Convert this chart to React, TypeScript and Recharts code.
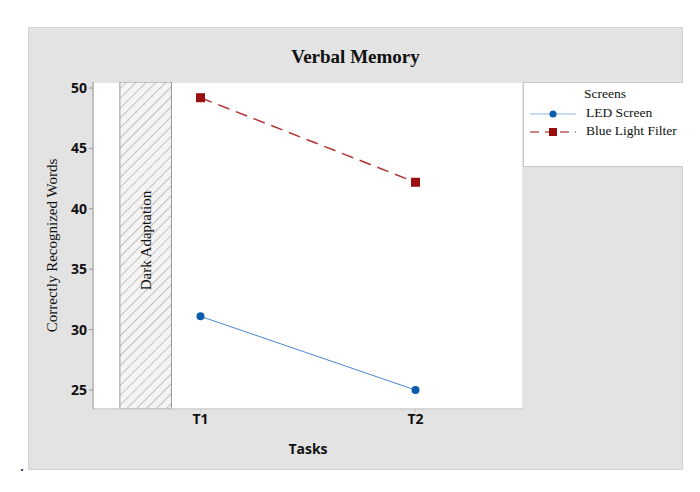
import React from "react";
import { LineChart, Line, XAxis, YAxis, ReferenceArea } from "recharts";

const tasks = ["T1", "T2"];
const ledScreen = [31.1, 25.0];
const blueLightFilter = [49.2, 42.2];
const yTicks = [25, 30, 35, 40, 45, 50];

const data = tasks.map((task, i) => ({
  x: i + 1,
  task,
  led: ledScreen[i],
  blf: blueLightFilter[i],
}));

const X_DOMAIN: [number, number] = [0.5, 2.5];
const Y_DOMAIN: [number, number] = [23.43, 50.5];

const serif = "'Liberation Serif', 'DejaVu Serif', serif";
const sans = "'Open Sans', Lato, sans-serif";

const LED_COLOR = "#0b5cad";
const LED_LINE = "#4a86d0";
const BLF_COLOR = "#9b0f0f";
const BLF_LINE = "#b23232";

function SquareDot(props: any) {
  const { cx, cy } = props;
  if (cx == null || cy == null) return null;
  return <rect x={cx - 4.5} y={cy - 4.5} width={9} height={9} fill={BLF_COLOR} />;
}

function LegendBox() {
  return (
    <div
      style={{
        position: "absolute",
        left: 523,
        top: 82,
        width: 160,
        height: 85,
        background: "#fff",
        borderLeft: "1px solid #c8c8c8",
        borderBottom: "1px solid #c8c8c8",
        borderTop: "1px solid #c8c8c8",
        boxSizing: "border-box",
        fontFamily: serif,
        fontSize: 13.5,
        color: "#111",
      }}
    >
      <div style={{ position: "absolute", left: 60, top: 3 }}>Screens</div>
      <svg style={{ position: "absolute", left: 6, top: 25 }} width={46} height={12}>
        <line x1={0} y1={6} x2={46} y2={6} stroke={LED_LINE} strokeWidth={1} opacity={0.6} />
        <circle cx={23} cy={6} r={3.5} fill={LED_COLOR} />
      </svg>
      <div style={{ position: "absolute", left: 62, top: 22 }}>LED Screen</div>
      <svg style={{ position: "absolute", left: 6, top: 43 }} width={46} height={12}>
        <line x1={0} y1={6} x2={46} y2={6} stroke={BLF_LINE} strokeWidth={1.5} strokeDasharray="9 6" opacity={0.8} />
        <rect x={19} y={2} width={8} height={8} fill={BLF_COLOR} />
      </svg>
      <div style={{ position: "absolute", left: 62, top: 40 }}>Blue Light Filter</div>
    </div>
  );
}

export default function App() {
  return (
    <div style={{ position: "absolute", left: 0, top: 0, width: 700, height: 492, background: "#fff" }}>
      <div
        style={{
          position: "absolute",
          left: 28,
          top: 27,
          width: 655,
          height: 443,
          background: "#e3e3e3",
          border: "1px solid #d2d2d2",
          boxSizing: "border-box",
        }}
      />
      <div
        style={{
          position: "absolute",
          left: 0,
          top: 46,
          width: 711,
          textAlign: "center",
          fontFamily: serif,
          fontWeight: "bold",
          fontSize: 19,
          color: "#111",
        }}
      >
        Verbal Memory
      </div>
      <div style={{ position: "absolute", left: 20, top: 457, fontFamily: serif, fontSize: 16 }}>.</div>
      <div style={{ position: "absolute", left: 0, top: 0 }}>
        <LineChart width={700} height={492} data={data} margin={{ top: 82, right: 177, bottom: 38, left: 28 }}>
          <defs>
            <pattern id="hatch" width={7} height={7} patternUnits="userSpaceOnUse" patternTransform="rotate(45)">
              <rect width={7} height={7} fill="#f4f4f4" />
              <line x1={0} y1={0} x2={0} y2={7} stroke="#8c8c8c" strokeWidth={1} />
            </pattern>
          </defs>
          <XAxis
            dataKey="x"
            type="number"
            domain={X_DOMAIN}
            ticks={[1, 2]}
            tickFormatter={(v) => tasks[v - 1]}
            height={45}
            axisLine={{ stroke: "#c8c8c8" }}
            tickLine={{ stroke: "#c8c8c8" }}
            tickSize={3}
            tick={{ fill: "#111", fontFamily: sans, fontWeight: "bold", fontSize: 14 }}
            label={{
              value: "Tasks",
              position: "insideBottom",
              offset: 0,
              fill: "#111",
              fontFamily: sans,
              fontWeight: "bold",
              fontSize: 14,
            }}
          />
          <YAxis
            type="number"
            domain={Y_DOMAIN}
            ticks={yTicks}
            allowDataOverflow
            width={65}
            axisLine={{ stroke: "#9a9a9a" }}
            tickLine={{ stroke: "#9a9a9a" }}
            tickSize={4}
            tick={{ fill: "#111", fontFamily: sans, fontWeight: "bold", fontSize: 14 }}
            label={{
              value: "Correctly Recognized Words",
              angle: -90,
              position: "insideLeft",
              offset: 24,
              style: { textAnchor: "middle" },
              fill: "#111",
              fontFamily: serif,
              fontSize: 15,
            }}
          />
          <ReferenceArea
            x1={X_DOMAIN[0]}
            x2={X_DOMAIN[1]}
            y1={Y_DOMAIN[0]}
            y2={Y_DOMAIN[1]}
            fill="#ffffff"
            fillOpacity={1}
            stroke="#cfcfcf"
            ifOverflow="hidden"
          />
          <ReferenceArea
            x1={0.625}
            x2={0.865}
            y1={Y_DOMAIN[0]}
            y2={Y_DOMAIN[1]}
            fill="url(#hatch)"
            fillOpacity={1}
            stroke="#9a9a9a"
            strokeWidth={1}
            ifOverflow="hidden"
            label={{
              value: "Dark Adaptation",
              angle: -90,
              position: "center",
              dy: -5,
              fill: "#111",
              fontFamily: serif,
              fontSize: 15,
            }}
          />
          <Line
            dataKey="led"
            stroke={LED_LINE}
            strokeWidth={1}
            dot={{ r: 4, fill: LED_COLOR, stroke: LED_COLOR, strokeWidth: 0 }}
            isAnimationActive={false}
          />
          <Line
            dataKey="blf"
            stroke={BLF_LINE}
            strokeWidth={1.5}
            strokeDasharray="12 7"
            dot={<SquareDot />}
            isAnimationActive={false}
          />
        </LineChart>
      </div>
      <LegendBox />
    </div>
  );
}
